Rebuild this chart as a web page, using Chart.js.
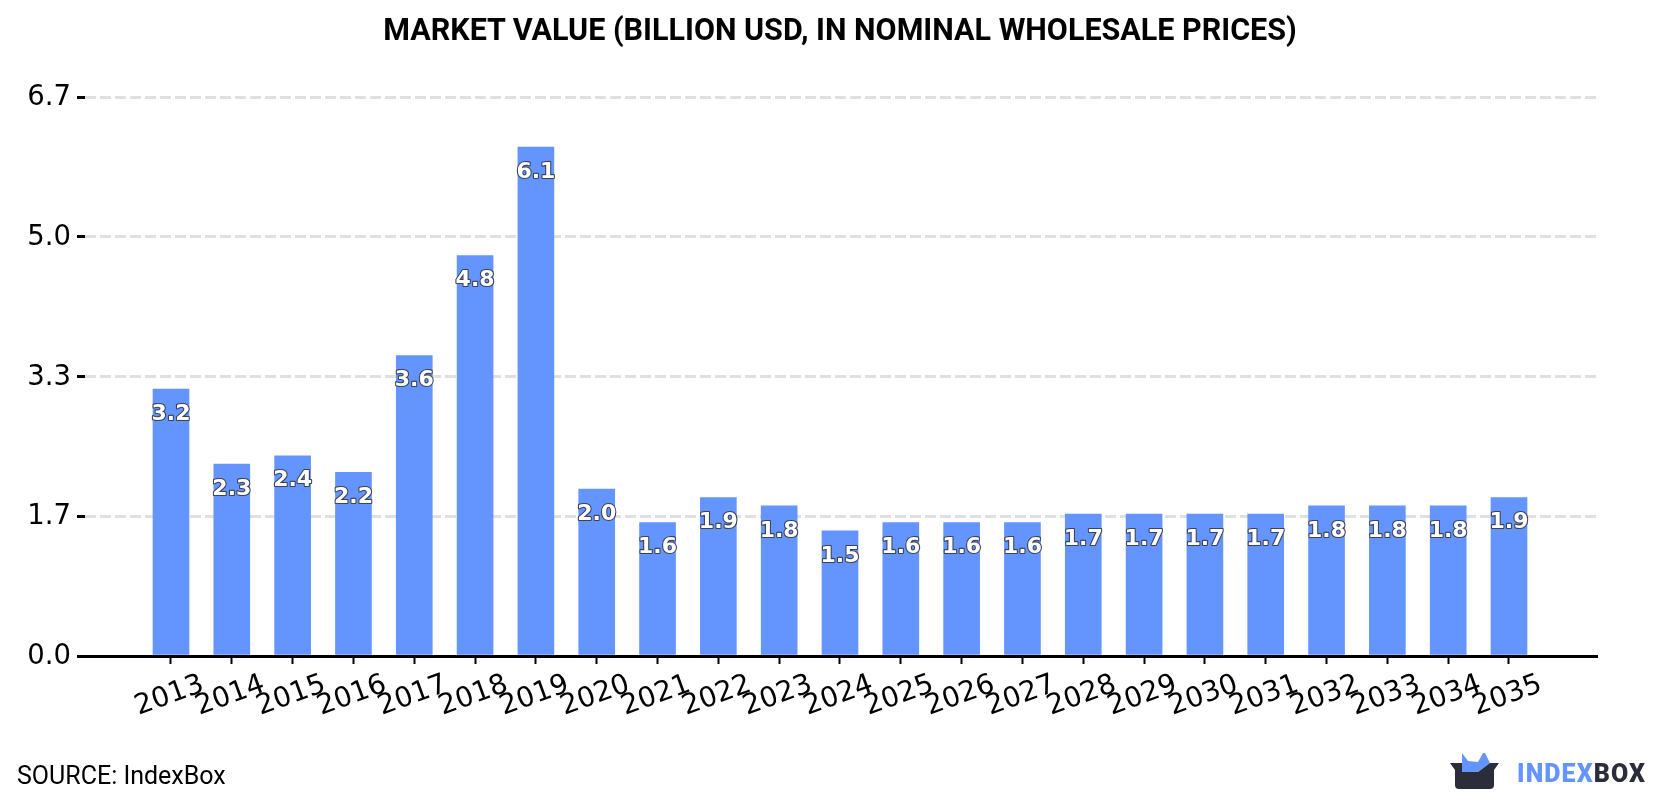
<!DOCTYPE html>
<html>
<head>
<meta charset="utf-8">
<title>Market value</title>
<script src="https://cdn.jsdelivr.net/npm/chart.js@4/dist/chart.umd.min.js"></script>
<style>
    html, body { margin: 0; padding: 0; background: #fff; }
    #wrap { position: relative; width: 1680px; height: 800px; overflow: hidden; }
    #title { position: absolute; left: 0; top: 12px; width: 1680px; text-align: center; font: bold 30.5px/36px Roboto, sans-serif; color: #000; }
    #source { position: absolute; left: 17px; top: 761px; font: 25px Roboto, sans-serif; color: #000; }
    #logo { position: absolute; left: 1450px; top: 750px; }
    #brand { position: absolute; left: 1517px; top: 759px; font: 900 25px Roboto, sans-serif; letter-spacing: 1.1px; color: #2b2d3a; }
    #brand span { color: #6495ff; }
</style>
</head>
<body>
<div id="wrap">
    <canvas id="market-chart" width="1680" height="800"></canvas>
    <div id="title">MARKET VALUE (BILLION USD, IN NOMINAL WHOLESALE PRICES)</div>
    <div id="source">SOURCE: IndexBox</div>
    <svg id="logo" width="50" height="40" viewBox="0 0 50 40">
        <path d="M12 3 L18 11 L28 12 L33 3 L35 3 L40 13 L28 22 L12 22 Z" fill="#6495ff"/>
        <path d="M0 13 L12 13 L12 22 L28 22 L40 13 L49 13 L44 20 L44 35 Q44 39 40 39 L9 39 Q5 39 5 35 L5 20 Z" fill="#2b2d3a"/>
    </svg>
    <div id="brand"><span>INDEX</span>BOX</div>
</div>
<script>
const years = [2013, 2014, 2015, 2016, 2017, 2018, 2019, 2020, 2021, 2022, 2023, 2024,
               2025, 2026, 2027, 2028, 2029, 2030, 2031, 2032, 2033, 2034, 2035];
const marketValue = [3.2, 2.3, 2.4, 2.2, 3.6, 4.8, 6.1, 2.0, 1.6, 1.9, 1.8, 1.5,
                     1.6, 1.6, 1.6, 1.7, 1.7, 1.7, 1.7, 1.8, 1.8, 1.8, 1.9];
const yTickLabels = ['0.0', '1.7', '3.3', '5.0', '6.7'];

// white bold value inside the top of each bar, with a dark outline
const barLabels = {
    id: 'barLabels',
    afterDatasetsDraw(chart) {
        const ctx = chart.ctx;
        const bars = chart.getDatasetMeta(0).data;
        ctx.save();
        ctx.font = 'bold 22px "DejaVu Sans"';
        ctx.textAlign = 'center';
        ctx.textBaseline = 'middle';
        ctx.lineJoin = 'round';
        bars.forEach(function(bar, i) {
            const text = marketValue[i].toFixed(1);
            ctx.lineWidth = 2.2;
            ctx.strokeStyle = '#3d4250';
            ctx.strokeText(text, bar.x, bar.y + 25);
            ctx.fillStyle = '#fff';
            ctx.fillText(text, bar.x, bar.y + 25);
        });
        ctx.restore();
    }
};

new Chart(document.getElementById('market-chart'), {
    type: 'bar',
    data: {
        datasets: [{
            data: years.map(function(year, i) { return { x: year, y: marketValue[i] }; }),
            backgroundColor: '#6495ff',
            barThickness: 36
        }]
    },
    options: {
        responsive: false,
        animation: false,
        layout: { padding: { top: 97, right: 83, bottom: 0, left: 0 } },
        plugins: {
            legend: { display: false },
            tooltip: { enabled: false }
        },
        scales: {
            x: {
                type: 'linear',
                offset: false,
                bounds: 'data',
                min: 2011.586,
                max: 2036.447,
                afterBuildTicks(scale) {
                    scale.ticks = years.map(function(year) { return { value: year }; });
                },
                afterFit(scale) { scale.height = 144; },
                border: { color: '#000', width: 3 },
                grid: { offset: false, drawOnChartArea: false, tickColor: '#000', tickWidth: 2, tickLength: 8 },
                ticks: {
                    autoSkip: false,
                    minRotation: 20,
                    maxRotation: 20,
                    labelOffset: 32,
                    padding: 4,
                    color: '#000',
                    font: { family: 'DejaVu Sans', size: 28 },
                    callback: function(value) { return String(value); }
                }
            },
            y: {
                min: 0,
                max: 6.7,
                afterFit(scale) { scale.width = 85; },
                border: { display: false, dash: [11, 4] },
                grid: { color: '#e0e0e0', lineWidth: 3, tickColor: '#000', tickWidth: 3, tickLength: 8, tickBorderDash: [] },
                ticks: {
                    stepSize: 1.675,
                    padding: 6,
                    labelOffset: 1,
                    color: '#000',
                    font: { family: 'DejaVu Sans', size: 27.5 },
                    callback: function(value, index) { return yTickLabels[index]; }
                }
            }
        }
    },
    plugins: [barLabels]
});
</script>
</body>
</html>
